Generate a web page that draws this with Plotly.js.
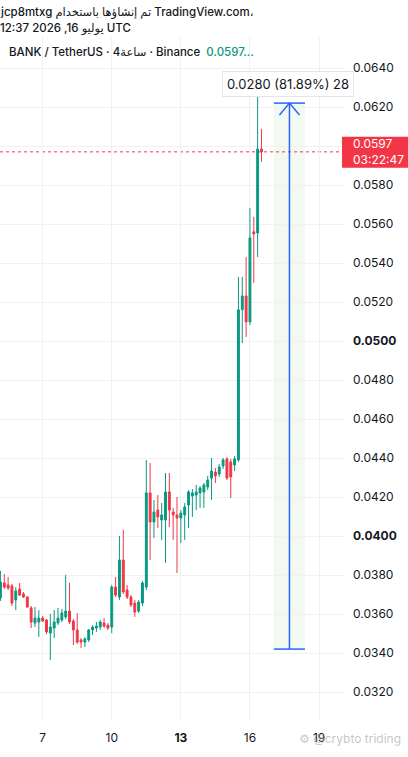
<!DOCTYPE html>
<html><head><meta charset="utf-8">
<script src="https://cdn.plot.ly/plotly-3.0.1.min.js"></script>
<style>html,body{margin:0;padding:0;background:#fff;}#chart{width:408px;height:757px;}</style>
</head><body><div id="chart"></div>
<script>
// 4h candles, BANK/USDT (Binance), July 2026
const times = [
 '2026-07-05 04:00','2026-07-05 08:00','2026-07-05 12:00','2026-07-05 16:00','2026-07-05 20:00',
 '2026-07-06 00:00','2026-07-06 04:00','2026-07-06 08:00','2026-07-06 12:00','2026-07-06 16:00','2026-07-06 20:00',
 '2026-07-07 00:00','2026-07-07 04:00','2026-07-07 08:00','2026-07-07 12:00','2026-07-07 16:00','2026-07-07 20:00',
 '2026-07-08 00:00','2026-07-08 04:00','2026-07-08 08:00','2026-07-08 12:00','2026-07-08 16:00','2026-07-08 20:00',
 '2026-07-09 00:00','2026-07-09 04:00','2026-07-09 08:00','2026-07-09 12:00','2026-07-09 16:00','2026-07-09 20:00',
 '2026-07-10 00:00','2026-07-10 04:00','2026-07-10 08:00','2026-07-10 12:00','2026-07-10 16:00','2026-07-10 20:00',
 '2026-07-11 00:00','2026-07-11 04:00','2026-07-11 08:00','2026-07-11 12:00','2026-07-11 16:00','2026-07-11 20:00',
 '2026-07-12 00:00','2026-07-12 04:00','2026-07-12 08:00','2026-07-12 12:00','2026-07-12 16:00','2026-07-12 20:00',
 '2026-07-13 00:00','2026-07-13 04:00','2026-07-13 08:00','2026-07-13 12:00','2026-07-13 16:00','2026-07-13 20:00',
 '2026-07-14 00:00','2026-07-14 04:00','2026-07-14 08:00','2026-07-14 12:00','2026-07-14 16:00','2026-07-14 20:00',
 '2026-07-15 00:00','2026-07-15 04:00','2026-07-15 08:00','2026-07-15 12:00','2026-07-15 16:00','2026-07-15 20:00',
 '2026-07-16 00:00','2026-07-16 04:00','2026-07-16 08:00','2026-07-16 12:00'
];
const open = [
 0.03682,0.03759,0.03749,0.03744,0.03672,
 0.03728,0.03703,0.03687,0.03631,0.03554,0.03559,
 0.03579,0.03569,0.03502,0.03528,0.03554,0.03569,
 0.03585,0.03615,0.03564,0.03518,0.03467,0.03456,
 0.03467,0.03518,0.03528,0.03533,0.03554,0.03543,
 0.03533,0.03738,0.03687,0.03877,0.03723,0.03687,
 0.03656,0.03615,0.03656,0.03738,0.04221,0.04072,
 0.04133,0.04082,0.04082,0.04226,0.04123,0.04108,
 0.04092,0.04108,0.04159,0.04205,0.04210,0.04221,
 0.04226,0.04251,0.04297,0.04328,0.04318,0.04359,
 0.04395,0.04380,0.04364,0.04390,0.05160,0.05231,
 0.05098,0.05560,0.05554,0.05985
];
const high = [
 0.03821,0.03805,0.03790,0.03754,0.03738,
 0.03759,0.03713,0.03692,0.03641,0.03636,0.03620,
 0.03590,0.03574,0.03600,0.03620,0.03631,0.03626,
 0.03800,0.03759,0.03574,0.03605,0.03477,0.03482,
 0.03523,0.03543,0.03559,0.03569,0.03579,0.03554,
 0.03749,0.03790,0.04000,0.04031,0.03749,0.03697,
 0.03672,0.03672,0.03769,0.04390,0.04375,0.04185,
 0.04210,0.04169,0.04323,0.04323,0.04144,0.04200,
 0.04133,0.04169,0.04236,0.04241,0.04262,0.04256,
 0.04272,0.04308,0.04400,0.04349,0.04369,0.04400,
 0.04405,0.04395,0.04410,0.05329,0.05329,0.05431,
 0.05683,0.05637,0.06252,0.06088
];
const low = [
 0.03667,0.03728,0.03723,0.03641,0.03620,
 0.03692,0.03682,0.03631,0.03528,0.03533,0.03482,
 0.03559,0.03497,0.03364,0.03477,0.03543,0.03559,
 0.03574,0.03549,0.03441,0.03446,0.03426,0.03431,
 0.03456,0.03492,0.03508,0.03518,0.03528,0.03518,
 0.03502,0.03687,0.03672,0.03703,0.03677,0.03636,
 0.03585,0.03605,0.03641,0.03723,0.03877,0.03990,
 0.04041,0.03980,0.03862,0.04046,0.03980,0.03810,
 0.03964,0.03980,0.04041,0.04098,0.04133,0.04144,
 0.04144,0.04236,0.04185,0.04272,0.04303,0.04344,
 0.04287,0.04195,0.04333,0.04380,0.04990,0.05021,
 0.05083,0.05298,0.05431,0.05919
];
const close = [
 0.03764,0.03738,0.03733,0.03656,0.03718,
 0.03697,0.03687,0.03636,0.03559,0.03579,0.03579,
 0.03564,0.03508,0.03533,0.03559,0.03579,0.03605,
 0.03615,0.03559,0.03518,0.03456,0.03456,0.03472,
 0.03518,0.03533,0.03538,0.03559,0.03538,0.03528,
 0.03738,0.03697,0.03877,0.03713,0.03687,0.03646,
 0.03610,0.03661,0.03759,0.04221,0.04072,0.04123,
 0.04098,0.04108,0.04226,0.04133,0.04108,0.04092,
 0.04118,0.04149,0.04226,0.04221,0.04226,0.04246,
 0.04262,0.04287,0.04333,0.04308,0.04354,0.04390,
 0.04297,0.04303,0.04395,0.05160,0.05231,0.05098,
 0.05529,0.05549,0.05985,0.05970
];
const yTickVals = [0.032,0.034,0.036,0.038,0.040,0.042,0.044,0.046,0.048,0.050,0.052,0.054,0.056,0.058,0.060,0.062,0.064];
const yTickText = ['0.0320','0.0340','0.0360','0.0380','<b>0.0400</b>','0.0420','0.0440','0.0460','0.0480','<b>0.0500</b>','0.0520','0.0540','0.0560','0.0580','0.0600','0.0620','0.0640'];
const xTickVals = ['2026-07-07','2026-07-10','2026-07-13','2026-07-16','2026-07-19'];
const xTickText = ['7','10','<b>13</b>','16','19'];
const lastPrice = 0.0597;
const countdown = '03:22:47';
const measureFrom = 0.0342;
const measureTo = 0.0622;
const measureTimes = ['2026-07-17T01:00:00Z','2026-07-18T09:20:00Z'];
const measureLabel = '0.0280 (81.89%) 28';
const headerLine1 = 'jcp8mtxg تم إنشاؤها باستخدام TradingView.com،';
const headerLine2 = '12:37 2026 ,16 يوليو UTC';
const symbolLine = 'BANK / TetherUS · 4ساعة · Binance';
const symbolPrice = '0.0597...';
const watermark = '⚙ @crybto triding';

const GREEN = '#089981', RED = '#F23645', BLUE = '#2962FF', TXT = '#131722';
const FONT = 'Inter, Roboto, "DejaVu Sans", sans-serif';
const yMin = 0.030564, yMax = 0.06559;
const m0 = Date.parse(measureTimes[0]), m1 = Date.parse(measureTimes[1]);
const mMid = (m0 + m1) / 2;
const priceFrac = (lastPrice - yMin) / (yMax - yMin);

const trace = {
  type: 'candlestick', x: times, open: open, high: high, low: low, close: close,
  increasing: {line: {color: GREEN, width: 1}, fillcolor: GREEN},
  decreasing: {line: {color: RED, width: 1}, fillcolor: RED},
  whiskerwidth: 0, hoverinfo: 'skip', showlegend: false
};

const layout = {
  width: 408, height: 757,
  margin: {l: 0, r: 64, t: 37, b: 37},
  paper_bgcolor: '#ffffff', plot_bgcolor: '#ffffff',
  font: {family: FONT, color: TXT, size: 12},
  showlegend: false,
  xaxis: {
    type: 'date', range: ['2026-07-05 03:33', '2026-07-20 02:00'],
    rangeslider: {visible: false},
    tickvals: xTickVals, ticktext: xTickText, ticks: '',
    showgrid: true, gridcolor: '#f0f1f4', gridwidth: 1,
    zeroline: false, showline: false, fixedrange: true,
    tickfont: {size: 12, color: TXT}, ticklabelstandoff: 9
  },
  yaxis: {
    side: 'right', range: [yMin, yMax],
    tickvals: yTickVals, ticktext: yTickText, ticks: '',
    showgrid: true, gridcolor: '#f0f1f4', gridwidth: 1,
    zeroline: false, showline: false, fixedrange: true,
    tickfont: {size: 12, color: TXT}, ticklabelstandoff: 8
  },
  shapes: [
    {type: 'line', xref: 'paper', x0: 0, x1: 1, yref: 'y', y0: lastPrice, y1: lastPrice,
     line: {color: RED, width: 1, dash: 'dot'}, layer: 'below'},
    {type: 'rect', xref: 'x', x0: m0, x1: m1, yref: 'y', y0: measureFrom, y1: measureTo,
     fillcolor: 'rgba(76,175,80,0.08)', line: {width: 0}, layer: 'below'},
    {type: 'line', xref: 'x', x0: m0, x1: m1, yref: 'y', y0: measureTo, y1: measureTo,
     line: {color: BLUE, width: 1.5}},
    {type: 'line', xref: 'x', x0: m0, x1: m1, yref: 'y', y0: measureFrom, y1: measureFrom,
     line: {color: BLUE, width: 1.5}},
    {type: 'line', xref: 'x', x0: mMid, x1: mMid, yref: 'y', y0: measureFrom, y1: measureTo,
     line: {color: BLUE, width: 1.5}},
    {type: 'path', xref: 'x', yref: 'y', xsizemode: 'pixel', ysizemode: 'pixel',
     xanchor: mMid, yanchor: measureTo, path: 'M -10 -12 L 0 0 L 10 -12',
     line: {color: BLUE, width: 1.5}},
    {type: 'rect', xref: 'paper', x0: 342/344, x1: 408/344, yref: 'paper', ysizemode: 'pixel',
     yanchor: priceFrac, y0: -16, y1: 15, fillcolor: RED, line: {width: 0}, layer: 'above'}
  ],
  annotations: [
    {xref: 'paper', yref: 'paper', x: -0.006, y: (720 - 12) / 683, xanchor: 'left', yanchor: 'middle',
     text: headerLine1, showarrow: false, font: {size: 11.5, color: TXT, weight: 500}},
    {xref: 'paper', yref: 'paper', x: -0.006, y: (720 - 28) / 683, xanchor: 'left', yanchor: 'middle',
     text: headerLine2, showarrow: false, font: {size: 11.5, color: TXT, weight: 500}},
    {xref: 'paper', yref: 'paper', x: 7 / 344, y: (720 - 52) / 683, xanchor: 'left', yanchor: 'middle',
     text: symbolLine + '  <span style="color:' + GREEN + '">' + symbolPrice + '</span>',
     showarrow: false, font: {size: 11.5, color: TXT, weight: 500}},
    {xref: 'paper', yref: 'y', x: 351 / 344, y: lastPrice, xanchor: 'left', yanchor: 'middle',
     text: lastPrice.toFixed(4) + '<br>' + countdown, align: 'left', showarrow: false,
     font: {size: 12, color: '#ffffff'}},
    {xref: 'x', yref: 'y', x: mMid, y: measureTo, xanchor: 'left', yanchor: 'middle',
     xshift: -67, yshift: 19, text: measureLabel, showarrow: false,
     bgcolor: '#ffffff', bordercolor: '#e3e5ea', borderwidth: 1, borderpad: 4,
     font: {size: 13, color: TXT}},
    {xref: 'paper', yref: 'paper', x: 297 / 344, y: (720 - 738) / 683, xanchor: 'left', yanchor: 'middle',
     text: watermark, showarrow: false, font: {size: 12, color: 'rgba(160,160,160,0.6)'}}
  ]
};

Plotly.newPlot('chart', [trace], layout, {staticPlot: true, displayModeBar: false});
</script>
</body></html>
